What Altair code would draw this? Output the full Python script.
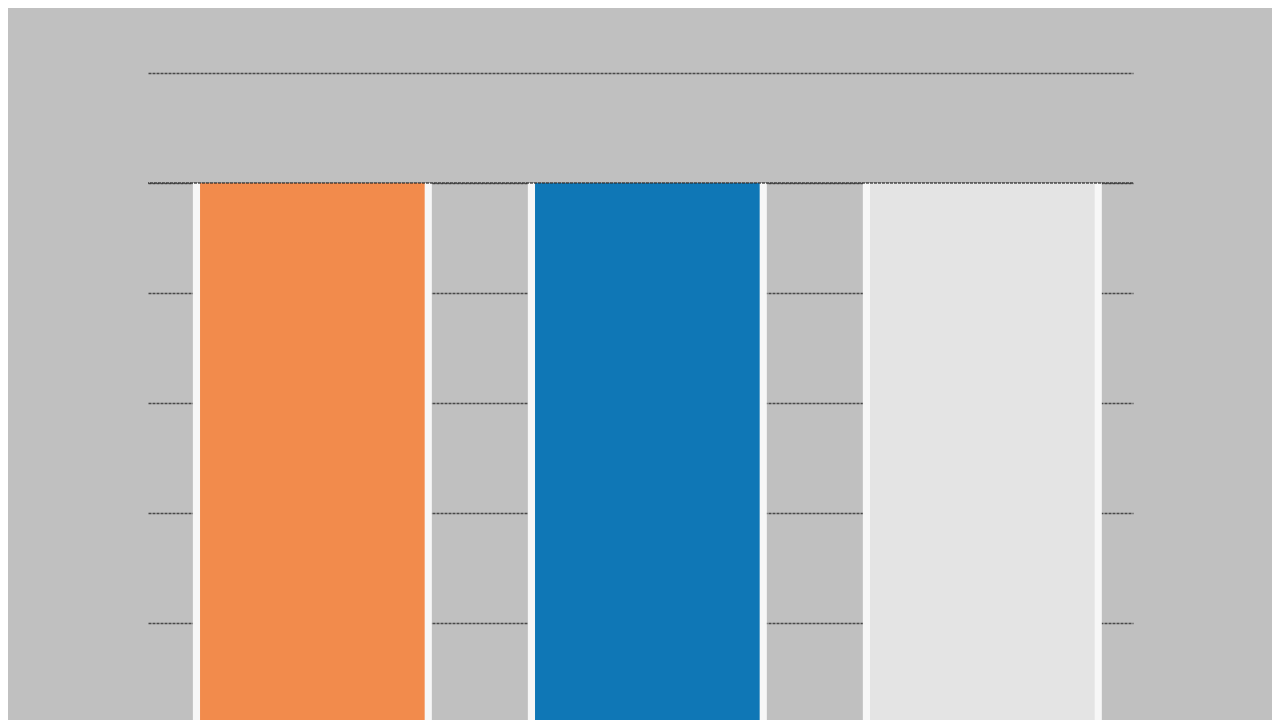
import altair as alt
import pandas as pd

categories = ["A", "B", "C"]
values = [5, 5, 5]
colors = ["#f28b4c", "#0f77b6", "#e4e4e4"]
grid_values = [0, 1, 2, 3, 4, 5, 6]

df = pd.DataFrame({"cat": categories, "value": values, "color": colors})

x = alt.X("cat:N", axis=None,
          scale=alt.Scale(paddingInner=0.2866, paddingOuter=0.1135, align=0.59))
y_scale = alt.Scale(domain=[0, 6])
y = alt.Y("value:Q", scale=y_scale,
          axis=alt.Axis(values=grid_values, labels=False, ticks=False, domain=False,
                        title=None, grid=True, gridColor="#333333",
                        gridDash=[3, 1], gridWidth=1.6, gridOpacity=0.85))

base = alt.Chart(df)

white = base.mark_bar(color="#f7f7f7", width=alt.RelativeBandSize(1.0)).encode(x=x, y=y)
colored = base.mark_bar(width=alt.RelativeBandSize(0.94)).encode(
    x=x, y=alt.Y("value:Q", scale=y_scale),
    color=alt.Color("color:N", scale=None, legend=None))
top_rule = alt.Chart(pd.DataFrame({"v": [values[0]]})).mark_rule(
    color="#333333", strokeDash=[3, 1], strokeWidth=1.6, opacity=0.85
).encode(y=alt.Y("v:Q", scale=y_scale))

chart = alt.layer(white, colored, top_rule).properties(
    width=985, height=660,
    background="#c0c0c0",
    padding={"left": 140, "top": 65, "right": 139, "bottom": 10},
    autosize=alt.AutoSizeParams(type="none"),
).configure_view(stroke=None)

chart.save("out.html", embed_options={"renderer": "svg", "actions": False})
